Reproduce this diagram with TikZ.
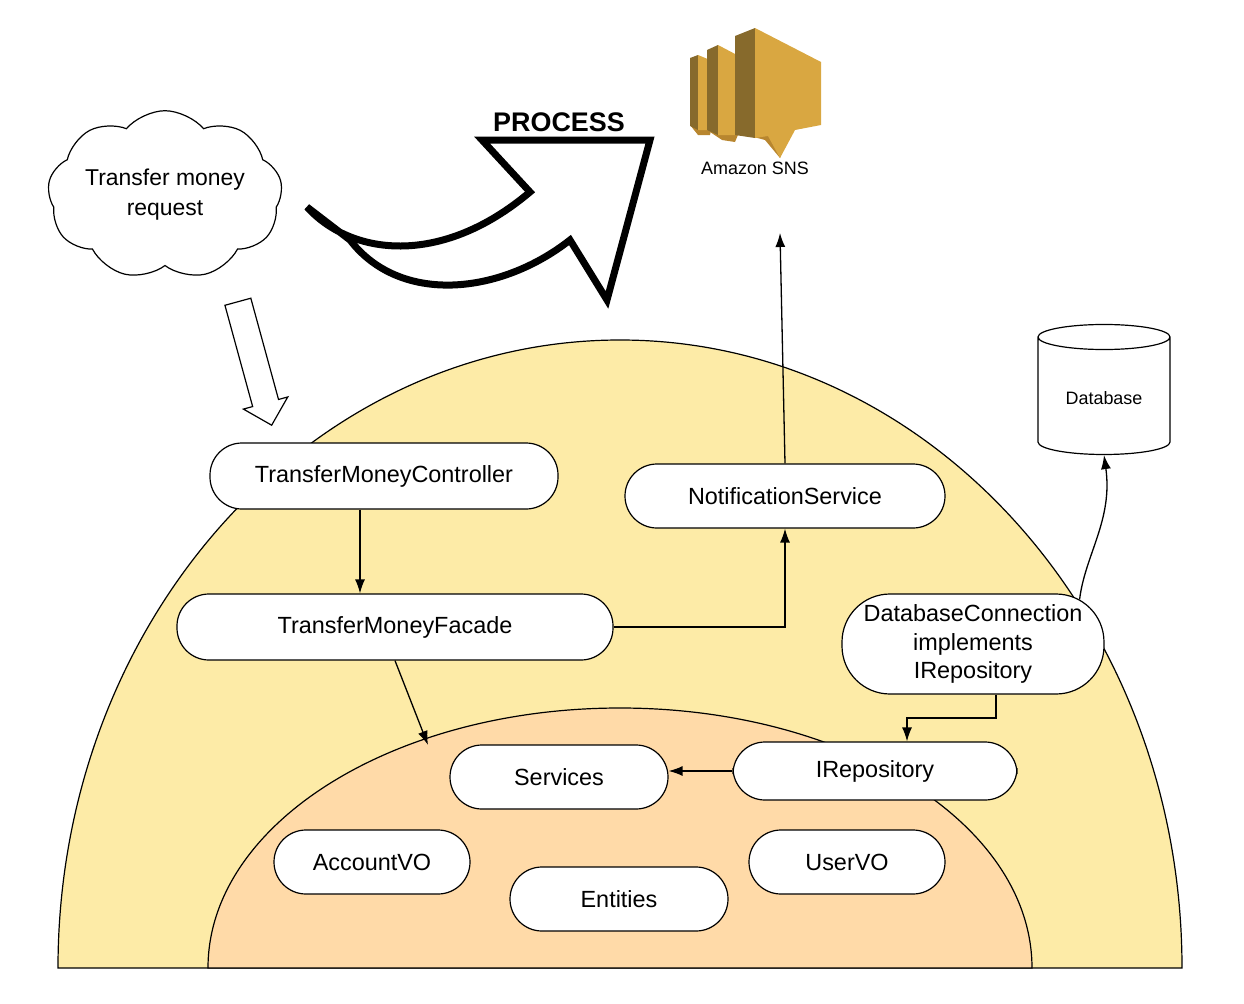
\documentclass[tikz,border=0pt]{standalone}
\usepackage{fontspec}
\setmainfont{Liberation Sans}
\usetikzlibrary{shapes.symbols,shapes.arrows,shapes.geometric,arrows.meta}
\definecolor{outer}{HTML}{FDEBA7}
\definecolor{inner}{HTML}{FFDAA8}
\definecolor{snsl}{HTML}{D9A741}
\definecolor{snsd}{HTML}{876A2C}
\definecolor{snsm}{HTML}{B8862F}
\begin{document}
\begin{tikzpicture}[x=1bp,y=-1bp,
  box/.style={draw,line width=1.2bp,fill=white,rounded corners=32bp,minimum height=64bp,inner sep=2bp,font=\fontsize{23.5}{28}\selectfont,align=center},
  con/.style={line width=1.3bp,-{Latex[length=14bp,width=10bp]}}]
\useasboundingbox (0,0) rectangle (1244,1004);
% domes
\draw[line width=1.2bp,fill=outer] (58,968) arc[start angle=180,end angle=360,x radius=562,y radius=628] -- cycle;
\draw[line width=1.2bp,fill=inner] (208,968) arc[start angle=180,end angle=360,x radius=412,y radius=260] -- cycle;
% cloud
\node[cloud,draw,line width=1.2bp,fill=white,cloud puffs=9,cloud puff arc=100,aspect=1.6,minimum width=210bp,minimum height=140bp,inner sep=0bp,align=center,font=\fontsize{23}{30}\selectfont] (cloud) at (165,195) {Transfer money\\request};
% hollow arrow
\node[single arrow,draw,line width=1.2bp,fill=white,minimum height=128bp,minimum width=46bp,single arrow head extend=4bp,inner sep=5bp,rotate=-74.7] (hollow) at (253,357) {};
% process arrow
\draw[line width=7bp,line join=miter] (307,207) .. controls (350,255) and (440,268) .. (530,192) -- (482,140) -- (650,140) -- (607,300) -- (570,240) .. controls (500,295) and (400,305) .. (350,240) -- cycle;
\node[font=\bfseries\fontsize{27}{30}\selectfont] (proc) at (559,122) {PROCESS};
% SNS icon
\fill[snsm] (690,125) -- (712,125) -- (710,135) -- (698,135) -- cycle;
\fill[snsd] (690,58) -- (698,55) -- (698,130) -- (690,126) -- cycle;
\fill[snsl] (698,55) -- (710,60) -- (710,130) -- (698,130) -- cycle;
\fill[snsm] (707,130) -- (740,130) -- (735,142) -- (722,140) -- cycle;
\fill[snsd] (707,50) -- (718,45) -- (718,135) -- (707,130) -- cycle;
\fill[snsl] (718,45) -- (737,55) -- (737,135) -- (718,135) -- cycle;
\fill[snsm] (735,132) -- (790,132) -- (780,158) -- (765,140) -- cycle;
\fill[snsd] (735,36) -- (755,28) -- (755,138) -- (735,135) -- cycle;
\fill[snsl] (755,28) -- (821,62) -- (821,125) -- (795,130) -- (780,158) -- (768,136) -- (755,138) -- cycle;
\node[font=\fontsize{18}{20}\selectfont] (sns) at (755,168) {Amazon SNS};
\coordinate (snsin) at (780,233);
% database
\node[cylinder,shape border rotate=90,draw,line width=1.2bp,fill=white,minimum width=132bp,minimum height=130bp,aspect=0.3,font=\fontsize{18}{20}\selectfont] (db) at (1104,398) {Database};
% nodes
\node[box,minimum width=348bp,minimum height=66bp] (ctrl) at (384,476) {TransferMoneyController};
\node[box,minimum width=436bp,minimum height=66bp] (fac) at (395,627) {TransferMoneyFacade};
\node[box,minimum width=320bp] (notif) at (785,496) {NotificationService};
\node[box,minimum width=262bp,minimum height=100bp,rounded corners=48bp,font=\fontsize{23.5}{29}\selectfont] (dbc) at (973,644) {DatabaseConnection\\implements\\IRepository};
\node[box,minimum width=284bp,minimum height=58bp] (irep) at (875,771) {IRepository};
\node[box,minimum width=218bp] (serv) at (559,777) {Services};
\node[box,minimum width=196bp] (acc) at (372,862) {AccountVO};
\node[box,minimum width=218bp] (ent) at (619,899) {Entities};
\node[box,minimum width=196bp] (user) at (847,862) {UserVO};
% connectors
\draw[con] (ctrl.south -| 360,0) -- (fac.north -| 360,0);
\draw[con] (fac.south) -- (428,745);
\draw[con] (fac.east) -| (notif.south);
\draw[con] (notif.north) -- (snsin);
\draw[con] (dbc.north east) ++(-25,6) .. controls (1085,555) and (1113,520) .. (db.south);
\draw[con] (dbc.south -| 996,0) -- (996,718) -| (irep.north -| 907,0);
\draw[con] (irep.west) -- (serv.east |- irep.west);
\end{tikzpicture}
\end{document}
